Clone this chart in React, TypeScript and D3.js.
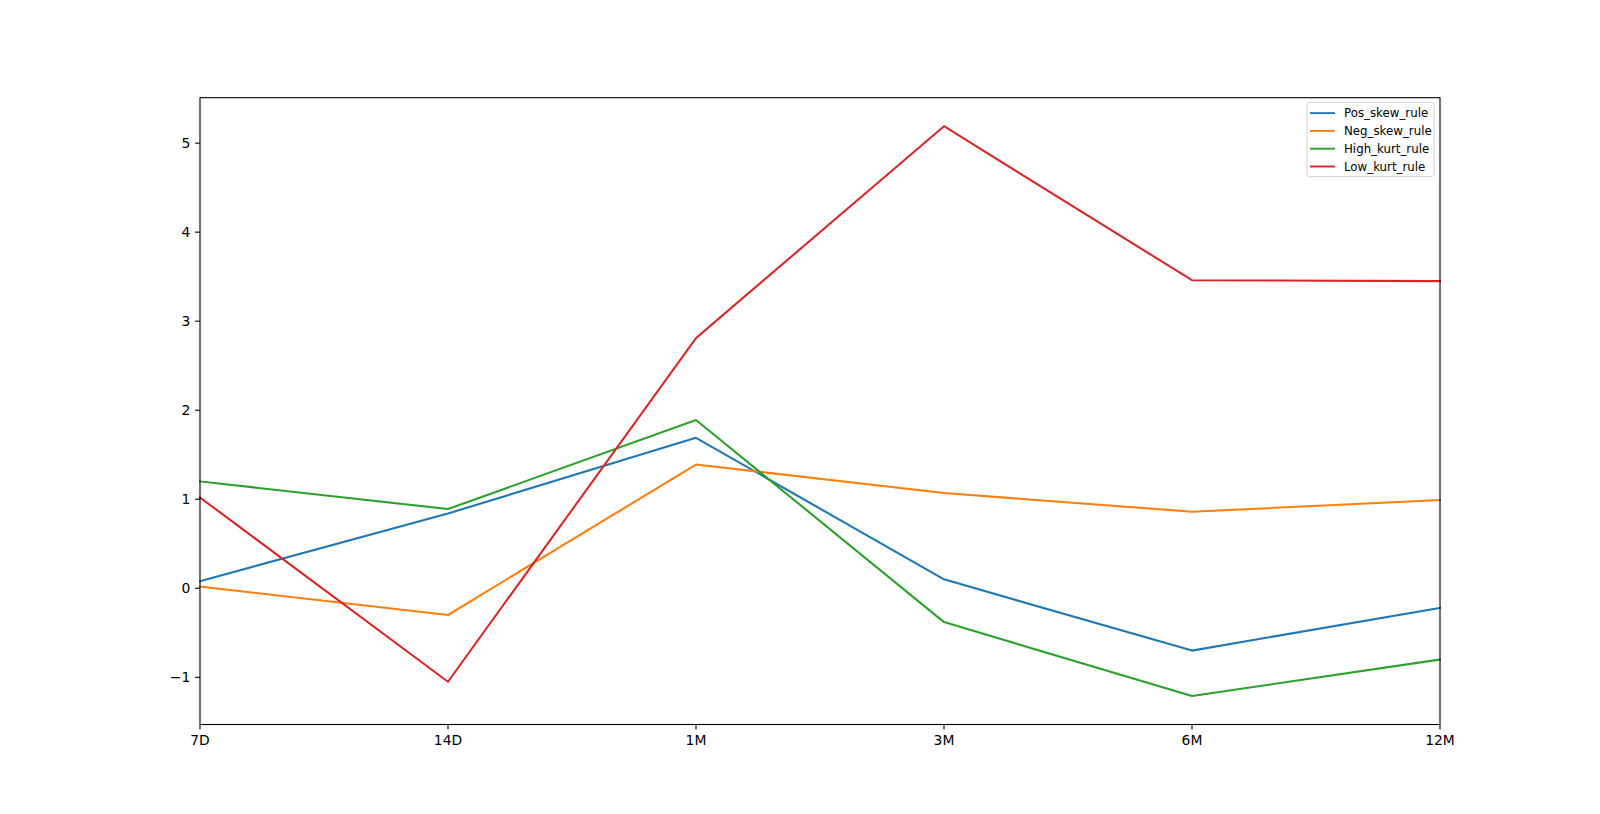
import * as React from "react";
import * as d3 from "d3";

const periods = ["7D", "14D", "1M", "3M", "6M", "12M"];
const seriesNames = ["Pos_skew_rule", "Neg_skew_rule", "High_kurt_rule", "Low_kurt_rule"];
const posSkew = [0.08, 0.84, 1.69, 0.1, -0.7, -0.22];
const negSkew = [0.02, -0.3, 1.39, 1.07, 0.86, 0.99];
const highKurt = [1.2, 0.89, 1.89, -0.38, -1.21, -0.8];
const lowKurt = [1.02, -1.05, 2.81, 5.19, 3.46, 3.45];
const yTicks = [-1, 0, 1, 2, 3, 4, 5];
const colors = ["#1f77b4", "#ff7f0e", "#2ca02c", "#d62728"];

const W = 1600;
const H = 814;
const left = 200;
const right = 1440;
const top = 97.7;
const bottom = 724.5;
const FONT = "DejaVu Sans, sans-serif";
const FS = 13.9;
const LEG_FS = 11.8;

export default function App() {
  const all = [posSkew, negSkew, highKurt, lowKurt];
  const lo = d3.min(all.flat())!;
  const hi = d3.max(all.flat())!;
  const pad = (hi - lo) * 0.05;

  const x = d3.scalePoint<string>().domain(periods).range([left, right]).padding(0);
  const y = d3.scaleLinear().domain([lo - pad, hi + pad]).range([bottom, top]);

  const line = d3
    .line<number>()
    .x((_, i) => x(periods[i])!)
    .y((d) => y(d));

  // legend layout
  const legRight = right - 6;
  const legW = 127;
  const legLeft = legRight - legW;
  const legTop = top + 4.6;
  const rowH = 17.8;
  const legH = 74.4;

  return (
    <svg
      width={W}
      height={H}
      style={{ position: "absolute", left: 0, top: 0, display: "block", background: "#fff" }}
      fontFamily={FONT}
    >
      <rect x={0} y={0} width={W} height={H} fill="#fff" />

      {/* lines */}
      <g fill="none" strokeWidth={2.08} strokeLinejoin="round" strokeLinecap="square">
        {all.map((s, k) => (
          <path key={seriesNames[k]} d={line(s)!} stroke={colors[k]} />
        ))}
      </g>

      {/* frame */}
      <rect
        x={left}
        y={top}
        width={right - left}
        height={bottom - top}
        fill="none"
        stroke="#000"
        strokeWidth={1.1}
      />

      {/* y axis */}
      <g>
        {yTicks.map((t) => (
          <g key={t} transform={`translate(${left},${y(t)})`}>
            <line x1={0} x2={-4.9} stroke="#000" strokeWidth={1.1} />
            <text x={-9.7} dy="0.35em" textAnchor="end" fontSize={FS} fill="#000">
              {t < 0 ? `\u2212${Math.abs(t)}` : t}
            </text>
          </g>
        ))}
      </g>

      {/* x axis */}
      <g>
        {periods.map((p) => (
          <g key={p} transform={`translate(${x(p)},${bottom})`}>
            <line y1={0} y2={4.9} stroke="#000" strokeWidth={1.1} />
            <text y={9.7} dy="0.8em" textAnchor="middle" fontSize={FS} fill="#000">
              {p}
            </text>
          </g>
        ))}
      </g>

      {/* legend */}
      <g>
        <rect
          x={legLeft}
          y={legTop}
          width={legW}
          height={legH}
          rx={3}
          fill="#fff"
          fillOpacity={0.8}
          stroke="#d0d0d0"
          strokeWidth={1}
        />
        {seriesNames.map((n, k) => {
          const cy = legTop + 10.8 + rowH * k;
          return (
            <g key={n}>
              <line
                x1={legLeft + 3}
                x2={legLeft + 28}
                y1={cy}
                y2={cy}
                stroke={colors[k]}
                strokeWidth={1.9}
              />
              <text x={legLeft + 37} y={cy} dy="0.35em" fontSize={LEG_FS} fill="#000">
                {n}
              </text>
            </g>
          );
        })}
      </g>
    </svg>
  );
}
